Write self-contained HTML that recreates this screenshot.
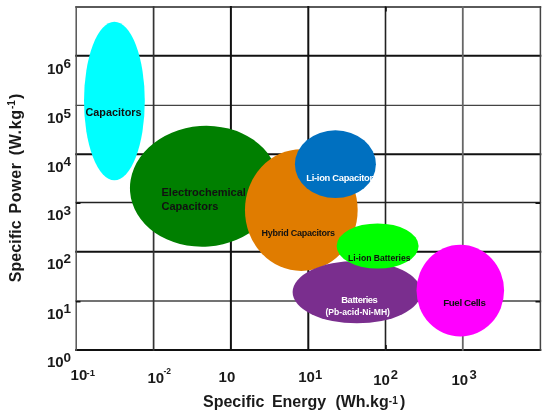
<!DOCTYPE html><html><head><meta charset="utf-8"><style>html,body{margin:0;padding:0;background:#fff;}svg{display:block;}</style></head><body>
<svg width="550" height="418" viewBox="0 0 550 418">
<rect width="550" height="418" fill="#fff"/>
<line x1="76.2" y1="7.0" x2="540.3" y2="7.0" stroke="#5a5a5a" stroke-width="1.8" stroke-linecap="square"/>
<line x1="76.2" y1="55.8" x2="540.3" y2="55.8" stroke="#111" stroke-width="2.0" stroke-linecap="square"/>
<line x1="76.2" y1="105.3" x2="540.3" y2="105.3" stroke="#444" stroke-width="1.2" stroke-linecap="square"/>
<line x1="76.2" y1="154.2" x2="540.3" y2="154.2" stroke="#111" stroke-width="2.0" stroke-linecap="square"/>
<line x1="76.2" y1="202.5" x2="540.3" y2="202.5" stroke="#222" stroke-width="1.5" stroke-linecap="square"/>
<line x1="76.2" y1="251.8" x2="540.3" y2="251.8" stroke="#111" stroke-width="2.0" stroke-linecap="square"/>
<line x1="76.2" y1="301.0" x2="540.3" y2="301.0" stroke="#444" stroke-width="1.7" stroke-linecap="square"/>
<line x1="76.2" y1="349.9" x2="540.3" y2="349.9" stroke="#111" stroke-width="2.0" stroke-linecap="square"/>
<line x1="76.2" y1="7.0" x2="76.2" y2="349.9" stroke="#555" stroke-width="1.5" stroke-linecap="square"/>
<line x1="153.6" y1="7.0" x2="153.6" y2="349.9" stroke="#333" stroke-width="1.7" stroke-linecap="square"/>
<line x1="230.9" y1="7.0" x2="230.9" y2="349.9" stroke="#111" stroke-width="2.0" stroke-linecap="square"/>
<line x1="308.3" y1="7.0" x2="308.3" y2="349.9" stroke="#111" stroke-width="2.0" stroke-linecap="square"/>
<line x1="385.5" y1="7.0" x2="385.5" y2="349.9" stroke="#222" stroke-width="1.6" stroke-linecap="square"/>
<line x1="462.8" y1="7.0" x2="462.8" y2="349.9" stroke="#666" stroke-width="1.8" stroke-linecap="square"/>
<line x1="540.4" y1="7.0" x2="540.4" y2="349.9" stroke="#444" stroke-width="1.5" stroke-linecap="square"/>
<line x1="76" y1="203.2" x2="80.5" y2="203.2" stroke="#111" stroke-width="1.6"/>
<line x1="535.5" y1="203.2" x2="540" y2="203.2" stroke="#111" stroke-width="1.6"/>
<line x1="76" y1="301.7" x2="80.5" y2="301.7" stroke="#111" stroke-width="1.6"/>
<line x1="535.5" y1="301.7" x2="540" y2="301.7" stroke="#111" stroke-width="1.6"/>
<line x1="385.9" y1="7" x2="385.9" y2="11.5" stroke="#111" stroke-width="1.8"/>
<line x1="385.9" y1="345" x2="385.9" y2="349" stroke="#111" stroke-width="1.8"/>
<ellipse cx="114.4" cy="101.0" rx="30.4" ry="79.3" fill="#00FFFF"/>
<ellipse cx="204.23" cy="186.23" rx="74.35" ry="60.36" fill="#007F00" transform="rotate(-4.18 204.23 186.23)"/>
<ellipse cx="301.3" cy="210.1" rx="56.35" ry="60.9" fill="#E07C00"/>
<ellipse cx="335.4" cy="164.2" rx="40.5" ry="33.9" fill="#0070C0"/>
<ellipse cx="356.9" cy="292.1" rx="64.3" ry="31.2" fill="#7A2E8E"/>
<ellipse cx="377.6" cy="246.0" rx="41.0" ry="22.6" fill="#00FF00"/>
<ellipse cx="460.3" cy="290.6" rx="43.8" ry="45.8" fill="#FF00FF"/>
<g font-family='"Liberation Sans", Arial, sans-serif' font-weight="bold">
<text x="85.5" y="115.8" font-size="11.5" fill="#111" textLength="56" lengthAdjust="spacingAndGlyphs">Capacitors</text>
<text x="161.5" y="196" font-size="11" fill="#111" >Electrochemical</text>
<text x="161.5" y="209.6" font-size="11" fill="#111" >Capacitors</text>
<text x="306.3" y="180.8" font-size="9.4" fill="#fff" letter-spacing="-0.3">Li-ion Capacitors</text>
<text x="261.6" y="235.9" font-size="9" fill="#111" letter-spacing="-0.25">Hybrid Capacitors</text>
<text x="348.0" y="261.4" font-size="8.6" fill="#111" letter-spacing="0">Li-ion Batteries</text>
<text x="341.3" y="302.5" font-size="9.4" fill="#fff" letter-spacing="-0.45">Batteries</text>
<text x="325.5" y="314.6" font-size="8.6" fill="#fff" letter-spacing="0">(Pb-acid-Ni-MH)</text>
<text x="443.2" y="306.3" font-size="9.8" fill="#111" letter-spacing="-0.4">Fuel Cells</text>
<text x="47.0" y="73.5" font-size="15" fill="#1a1a1a" >10</text>
<text x="63.6" y="67.9" font-size="13.5" fill="#1a1a1a" >6</text>
<text x="47.0" y="123.4" font-size="15" fill="#1a1a1a" >10</text>
<text x="63.6" y="117.8" font-size="13.5" fill="#1a1a1a" >5</text>
<text x="47.0" y="171.7" font-size="15" fill="#1a1a1a" >10</text>
<text x="63.6" y="166.1" font-size="13.5" fill="#1a1a1a" >4</text>
<text x="47.0" y="220.4" font-size="15" fill="#1a1a1a" >10</text>
<text x="63.6" y="214.8" font-size="13.5" fill="#1a1a1a" >3</text>
<text x="47.0" y="269.0" font-size="15" fill="#1a1a1a" >10</text>
<text x="63.6" y="263.4" font-size="13.5" fill="#1a1a1a" >2</text>
<text x="47.0" y="318.5" font-size="15" fill="#1a1a1a" >10</text>
<text x="63.6" y="312.9" font-size="13.5" fill="#1a1a1a" >1</text>
<text x="47.0" y="367.3" font-size="15" fill="#1a1a1a" >10</text>
<text x="63.6" y="361.7" font-size="13.5" fill="#1a1a1a" >0</text>
<text x="70.6" y="379.5" font-size="15" fill="#1a1a1a" >10</text>
<text x="86.5" y="375.9" font-size="9.5" fill="#1a1a1a" >-1</text>
<text x="147.5" y="382.5" font-size="15" fill="#1a1a1a" >10</text>
<text x="163.5" y="373.8" font-size="8.5" fill="#1a1a1a" >-2</text>
<text x="218.6" y="381.8" font-size="15" fill="#1a1a1a" >10</text>
<text x="298.2" y="381.8" font-size="15" fill="#1a1a1a" >10</text>
<text x="315.0" y="378.6" font-size="13" fill="#1a1a1a" >1</text>
<text x="373.2" y="384.7" font-size="15" fill="#1a1a1a" >10</text>
<text x="390.8" y="378.6" font-size="13" fill="#1a1a1a" >2</text>
<text x="451.4" y="384.5" font-size="15" fill="#1a1a1a" >10</text>
<text x="469.4" y="378.6" font-size="13" fill="#1a1a1a" >3</text>
<text y="407.1" font-size="16" fill="#1a1a1a"><tspan x="203.0">Specific </tspan><tspan x="271.9">Energy </tspan><tspan x="335.4">(Wh.kg</tspan><tspan x="388.8" dy="-2.9" font-size="10">-1</tspan><tspan x="400.1" dy="2.9">)</tspan></text>
<text transform="translate(20.8,282.3) rotate(-90)" y="0" font-size="16" fill="#1a1a1a"><tspan x="0" letter-spacing="0.1">Specific </tspan><tspan x="68.7" letter-spacing="0.65">Power </tspan><tspan x="127.0" letter-spacing="0.65">(W.kg</tspan><tspan x="173.2" dy="-6.2" font-size="10">-1</tspan><tspan x="183.3" dy="6.2">)</tspan></text>
</g>
</svg></body></html>
